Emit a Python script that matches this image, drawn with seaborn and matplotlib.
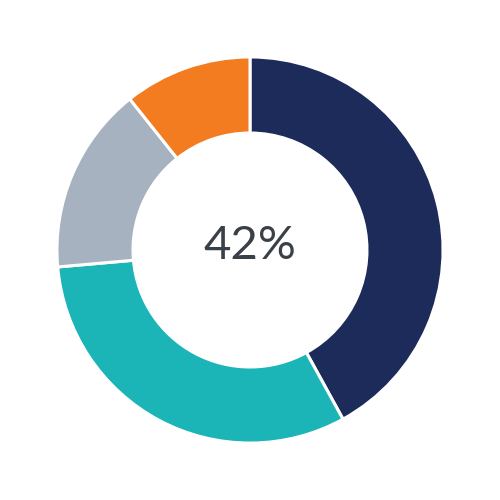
import matplotlib
matplotlib.use("Agg")
import matplotlib.pyplot as plt
import seaborn as sns

categories = ["Navy", "Teal", "Gray", "Orange"]
values = [42.0, 31.6, 15.7, 10.7]
colors = ["#1d2b5a", "#1bb4b7", "#a7b2c1", "#f37b20"]
center_label = "42%"

sns.set_theme(style="white")
plt.rcParams['font.family'] = ['Lato', 'DejaVu Sans']

fig = plt.figure(figsize=(5, 5), dpi=100)
ax = fig.add_axes([0, 0, 1, 1])
ax.pie(values, colors=colors, startangle=90, counterclock=False, radius=1.0,
       wedgeprops=dict(width=0.394, edgecolor="white", linewidth=2.2))
ax.set_xlim(-1.295, 1.295)
ax.set_ylim(-1.295, 1.295)
ax.set_aspect("equal")
ax.axis("off")
ax.text(0, 0.02, center_label, ha="center", va="center", fontsize=34,
        fontweight="normal", color="#3a4048")
fig.savefig("out.png", dpi=100, facecolor="white")
